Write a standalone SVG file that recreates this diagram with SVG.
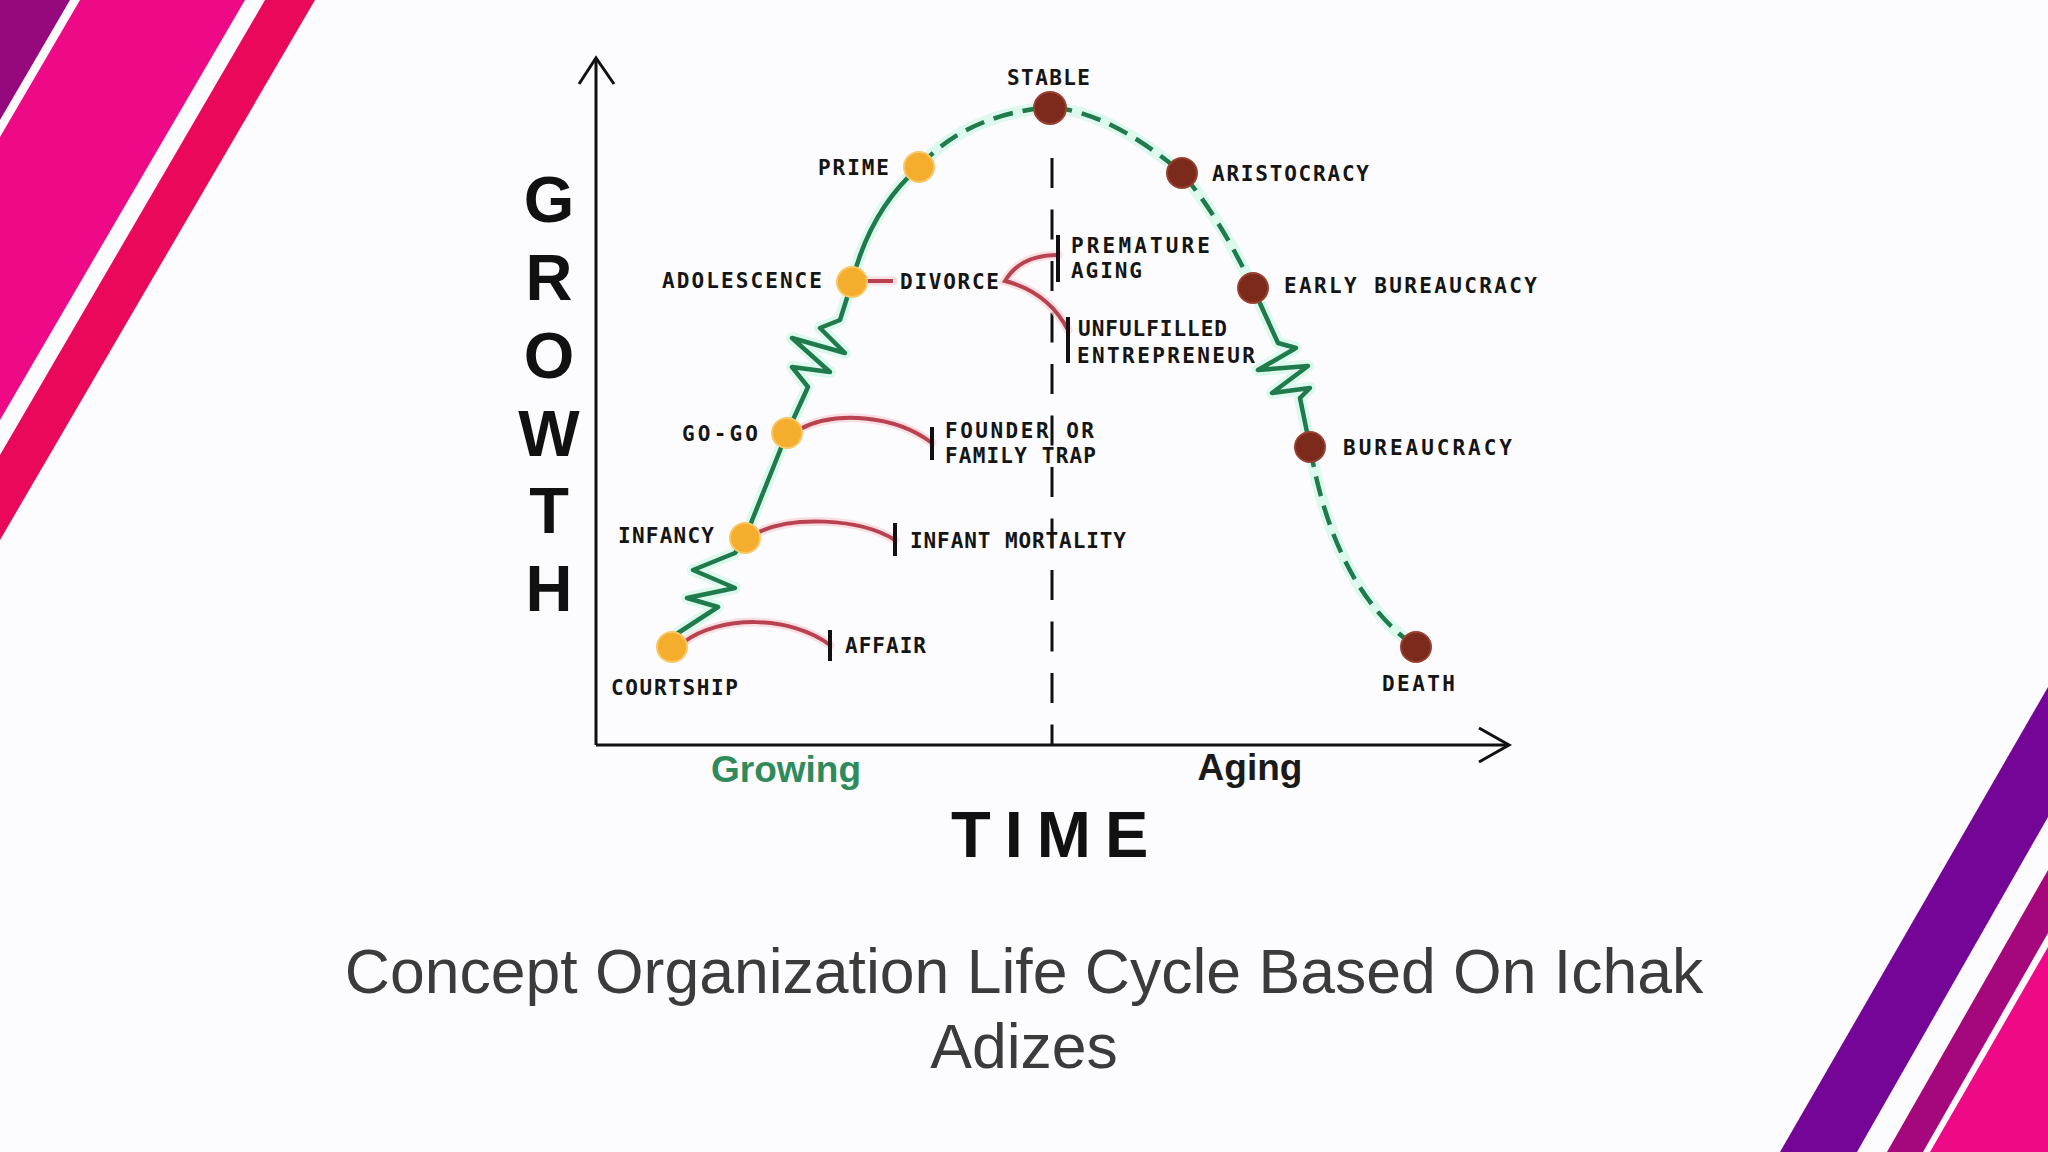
<svg xmlns="http://www.w3.org/2000/svg" width="2048" height="1152" viewBox="0 0 2048 1152">
<style>
.lbl{font-family:"DejaVu Sans Mono","Liberation Mono",monospace;font-weight:bold;font-size:21px;fill:#151515}
.big{font-family:"Liberation Sans",Arial,sans-serif;font-weight:bold;font-size:65px;fill:#111;text-anchor:middle}
.axis{stroke:#111;stroke-width:3;fill:none}
.glow{stroke:#c8f6e3;stroke-width:12;fill:none;stroke-linecap:round;stroke-linejoin:round;opacity:0.6}
.line{stroke:#1f7a4c;stroke-width:4.5;fill:none;stroke-linejoin:round}
.dash{stroke-dasharray:20 10}
.rglow{stroke:#f8d3d8;stroke-width:9;fill:none;stroke-linecap:round;opacity:0.7}
.red{stroke:#b8424f;stroke-width:4;fill:none}
.bar{stroke:#111;stroke-width:4}
.young{fill:#f5ad2e;stroke:#f9c765;stroke-width:2}
.old{fill:#7b2a1c;stroke:#9a4030;stroke-width:2}
</style>
<rect width="2048" height="1152" fill="#fcfbfd"/>
<g id="stripes">
<polygon points="0,0 70,0 0,120" fill="#96097e"/>
<polygon points="80,0 245,0 0,420 0,137" fill="#ee0a86"/>
<polygon points="265,0 315,0 0,540 0,455" fill="#e9085a"/>
<polygon points="2048,687 2048,817 1857,1152 1780,1152" fill="#750596"/>
<polygon points="2048,870 2048,933 1923,1152 1887,1152" fill="#a5087c"/>
<polygon points="2048,947 2048,1152 1930,1152" fill="#ee0a86"/>
</g>
<g id="axes">
<line class="axis" x1="596" y1="58" x2="596" y2="745"/>
<polyline class="axis" points="579,84 596,58 614,84"/>
<line class="axis" x1="596" y1="745" x2="1509" y2="745"/>
<polyline class="axis" points="1479,728 1509,745 1479,762"/>
<line x1="1052" y1="158" x2="1052" y2="745" stroke="#111" stroke-width="3" stroke-dasharray="30 21.5"/>
<text class="big" x="549" y="222">G</text>
<text class="big" x="549" y="300">R</text>
<text class="big" x="549" y="378">O</text>
<text class="big" x="549" y="456">W</text>
<text class="big" x="549" y="533">T</text>
<text class="big" x="549" y="611">H</text>
<text class="big" x="951" y="857" style="text-anchor:start;letter-spacing:14px">TIME</text>
<text x="786" y="782" font-family="Liberation Sans,Arial,sans-serif" font-weight="bold" font-size="37" fill="#2f8a5c" text-anchor="middle">Growing</text>
<text x="1250" y="780" font-family="Liberation Sans,Arial,sans-serif" font-weight="bold" font-size="37" fill="#1a1a1a" text-anchor="middle">Aging</text>
</g>
<g id="connectors">
<g id="curve-glow">
<path class="glow" d="M672,647 L678,633 L718,607 L687,598 L735,588 L693,570 L735,553 L745,538 L787,433 L808,387 L792,367 L830,372 L792,338 L845,353 L820,328 L840,320 L852,282 Q870,210 919,167 Q965,115 1050,107 Q1110,112 1182,173 Q1220,218 1253,288 L1278,343 L1296,348 L1258,370 L1308,366 L1272,393 L1310,388 L1300,398 L1310,447 Q1335,590 1416,647"/>
</g>
<path class="line" d="M672,647 L678,633 L718,607 L687,598 L735,588 L693,570 L735,553 L745,538 L787,433 L808,387 L792,367 L830,372 L792,338 L845,353 L820,328 L840,320 L852,282 Q870,210 919,167"/>
<path class="line dash" d="M919,167 Q965,115 1050,107 Q1110,112 1182,173 Q1220,218 1253,288"/>
<path class="line" d="M1253,288 L1278,343 L1296,348 L1258,370 L1308,366 L1272,393 L1310,388 L1300,398 L1310,447"/>
<path class="line dash" d="M1310,447 Q1335,590 1416,647"/>
<g id="traps">
<path class="rglow" d="M684,642 C720,615 790,615 830,645 M755,534 C790,515 860,518 895,540 M798,430 C835,410 895,415 932,443 M867,281 L893,281 M1058,255 Q1020,255 1005,281 Q1048,292 1068,330"/>
<path class="red" d="M684,642 C720,615 790,615 830,645"/>
<path class="red" d="M755,534 C790,515 860,518 895,540"/>
<path class="red" d="M798,430 C835,410 895,415 932,443"/>
<path class="red" d="M867,281 L893,281"/>
<path class="red" d="M1058,255 Q1020,255 1005,281 Q1048,292 1068,330"/>
<line class="bar" x1="830" y1="630" x2="830" y2="661"/>
<line class="bar" x1="895" y1="523" x2="895" y2="556"/>
<line class="bar" x1="932" y1="427" x2="932" y2="460"/>
<line class="bar" x1="1058" y1="235" x2="1058" y2="282"/>
<line class="bar" x1="1068" y1="317" x2="1068" y2="363"/>
</g>
</g>
<g id="courtship"><circle class="young" cx="672" cy="647" r="15"/><text class="lbl" x="611" y="695" textLength="127" lengthAdjust="spacing">COURTSHIP</text></g>
<g id="affair"><text class="lbl" x="845" y="653" textLength="81" lengthAdjust="spacing">AFFAIR</text></g>
<g id="infancy"><circle class="young" cx="745" cy="538" r="15"/><text class="lbl" x="618" y="543" textLength="96" lengthAdjust="spacing">INFANCY</text></g>
<g id="infant-mortality"><text class="lbl" x="910" y="548" textLength="216" lengthAdjust="spacing">INFANT MORTALITY</text></g>
<g id="go-go"><circle class="young" cx="787" cy="433" r="15"/><text class="lbl" x="682" y="441" textLength="76" lengthAdjust="spacing">GO-GO</text></g>
<g id="founder-trap"><text class="lbl" x="945" y="438" textLength="149" lengthAdjust="spacing">FOUNDER OR</text><text class="lbl" x="945" y="463" textLength="151" lengthAdjust="spacing">FAMILY TRAP</text></g>
<g id="adolescence"><circle class="young" cx="852" cy="282" r="15"/><text class="lbl" x="662" y="288" textLength="160" lengthAdjust="spacing">ADOLESCENCE</text></g>
<g id="divorce"><text class="lbl" x="900" y="289" textLength="99" lengthAdjust="spacing">DIVORCE</text></g>
<g id="premature-aging"><text class="lbl" x="1071" y="253" textLength="139" lengthAdjust="spacing">PREMATURE</text><text class="lbl" x="1071" y="278" textLength="71" lengthAdjust="spacing">AGING</text></g>
<g id="unfulfilled"><text class="lbl" x="1078" y="336" textLength="149" lengthAdjust="spacing">UNFULFILLED</text><text class="lbl" x="1077" y="363" textLength="178" lengthAdjust="spacing">ENTREPRENEUR</text></g>
<g id="prime"><circle class="young" cx="919" cy="167" r="15"/><text class="lbl" x="818" y="175" textLength="71" lengthAdjust="spacing">PRIME</text></g>
<g id="stable"><circle class="old" cx="1050" cy="108" r="16"/><text class="lbl" x="1007" y="85" textLength="83" lengthAdjust="spacing">STABLE</text></g>
<g id="aristocracy"><circle class="old" cx="1182" cy="173" r="15"/><text class="lbl" x="1212" y="181" textLength="157" lengthAdjust="spacing">ARISTOCRACY</text></g>
<g id="early-bureaucracy"><circle class="old" cx="1253" cy="288" r="15"/><text class="lbl" x="1284" y="293" textLength="253" lengthAdjust="spacing">EARLY BUREAUCRACY</text></g>
<g id="bureaucracy"><circle class="old" cx="1310" cy="447" r="15"/><text class="lbl" x="1343" y="455" textLength="169" lengthAdjust="spacing">BUREAUCRACY</text></g>
<g id="death"><circle class="old" cx="1416" cy="647" r="15"/><text class="lbl" x="1382" y="691" textLength="73" lengthAdjust="spacing">DEATH</text></g>
<g id="title" font-family="Liberation Sans,Arial,sans-serif" font-size="62.5" fill="#3b3b3b" text-anchor="middle">
<text x="1024" y="993">Concept Organization Life Cycle Based On Ichak</text>
<text x="1024" y="1068">Adizes</text>
</g>
</svg>
